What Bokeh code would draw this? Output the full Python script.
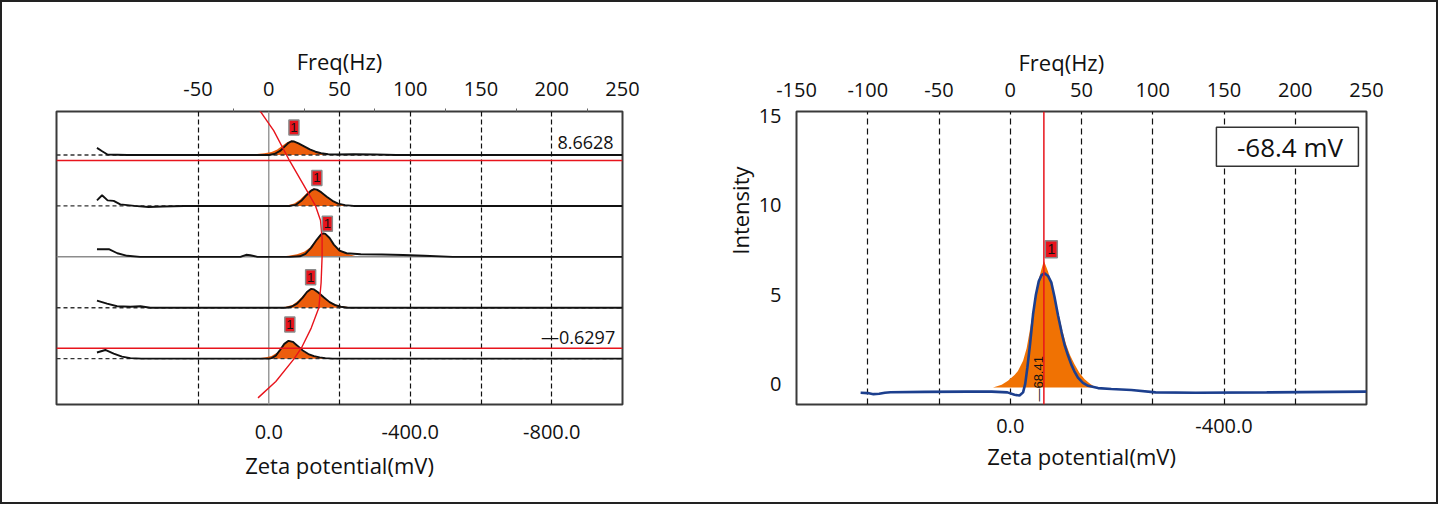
from bokeh.plotting import figure
from bokeh.models import Range1d, LinearAxis, FixedTicker, Span, Title
from bokeh.layouts import row
from bokeh.embed import file_html
from bokeh.resources import INLINE
from bokeh.core.properties import value

FONT = "Open Sans"

# ---------------- data: left panel (stacked runs) ----------------
freq_ticks = [-50, 0, 50, 100, 150, 200, 250]
freq_tick_labels = ["-50", "0", "50", "100", "150", "200", "250"]
freq_minor = [-25, 25, 75, 125, 175, 225]
left_grid_freq = [-50, 50, 100, 150, 200]
left_zeta_tick_freq = [0, 100, 200]
left_zeta_tick_labels = ["0.0", "-400.0", "-800.0"]

run1_freq = [-121.4, -118, -114, -100, -50, 0, 4, 8, 11, 14, 16, 18, 21, 25, 29, 33, 37, 42, 48, 60, 75, 90, 150, 250]
run1_amp = [0.14, 0.08, 0.01, 0.0, 0.0, 0.0, 0.02, 0.08, 0.16, 0.24, 0.27, 0.265, 0.23, 0.17, 0.11, 0.065, 0.035, 0.015, 0.01, 0.015, 0.01, 0.0, 0.0, 0.0]
run1_fill_freq = [-20, -10, -3, 2, 6, 10, 13, 16, 19, 23, 27, 31, 35, 40, 46]
run1_fill_amp = [0.0, 0.015, 0.035, 0.06, 0.11, 0.19, 0.25, 0.28, 0.26, 0.2, 0.13, 0.08, 0.045, 0.02, 0.0]

run2_freq = [-121.4, -117.8, -113.9, -109.6, -104.9, -95, -85, -75, -60, 0, 15, 19, 23, 27, 30, 32, 34, 37, 41, 45, 49, 54, 60, 250]
run2_amp = [0.11, 0.21, 0.11, 0.10, 0.03, 0.0, -0.02, -0.01, 0.0, 0.0, 0.0, 0.02, 0.1, 0.22, 0.3, 0.33, 0.32, 0.27, 0.18, 0.1, 0.045, 0.015, 0.0, 0.0]
run2_fill_freq = [8, 14, 18, 22, 26, 29, 32, 35, 38, 42, 46, 51, 57]
run2_fill_amp = [0.0, 0.02, 0.05, 0.12, 0.23, 0.31, 0.34, 0.32, 0.26, 0.16, 0.08, 0.03, 0.0]

run3_freq = [-121.4, -113, -107, -100, -91, -40, -20, -16, -13, -8, 0, 15, 22, 26, 30, 34, 37, 38.6, 40, 43, 46, 50, 55, 65, 80, 95, 110, 130, 250]
run3_amp = [0.15, 0.15, 0.07, 0.02, 0.0, 0.0, 0.0, 0.04, 0.03, 0.0, 0.0, 0.0, 0.01, 0.06, 0.18, 0.34, 0.44, 0.46, 0.45, 0.37, 0.24, 0.12, 0.07, 0.05, 0.045, 0.035, 0.02, 0.0, 0.0]
run3_fill_freq = [7, 14, 20, 25, 29, 33, 36, 38.6, 41, 44, 48, 53, 58, 63]
run3_fill_amp = [0.0, 0.02, 0.05, 0.1, 0.18, 0.31, 0.42, 0.47, 0.43, 0.31, 0.17, 0.08, 0.04, 0.0]

run4_freq = [-121.4, -114.3, -107.2, -97.8, -90.7, -83.7, 0, 12, 16, 20, 24, 27, 29.8, 32, 35, 39, 43, 47, 51, 56, 250]
run4_amp = [0.14, 0.08, 0.03, 0.02, 0.03, 0.0, 0.0, 0.0, 0.02, 0.08, 0.2, 0.31, 0.37, 0.36, 0.3, 0.2, 0.11, 0.05, 0.02, 0.0, 0.0]
run4_fill_freq = [6, 12, 17, 21, 25, 28, 29.8, 32, 35, 39, 44, 50, 56, 63]
run4_fill_amp = [0.0, 0.02, 0.06, 0.14, 0.26, 0.35, 0.38, 0.37, 0.31, 0.2, 0.1, 0.04, 0.015, 0.0]

run5_freq = [-121.4, -115.5, -109.6, -103.7, -97.8, -90, 0, 2, 5, 8, 11, 14, 17, 20, 24, 28, 32, 36, 40, 45, 250]
run5_amp = [0.12, 0.17, 0.10, 0.04, 0.01, 0.0, 0.0, 0.01, 0.06, 0.17, 0.29, 0.35, 0.33, 0.26, 0.16, 0.09, 0.05, 0.025, 0.01, 0.0, 0.0]
run5_fill_freq = [-14, -7, -2, 2, 6, 9, 12, 14, 16, 19, 23, 28, 34, 40, 45]
run5_fill_amp = [0.0, 0.01, 0.025, 0.05, 0.12, 0.22, 0.32, 0.36, 0.34, 0.27, 0.16, 0.08, 0.035, 0.01, 0.0]

# peak marker positions (freq, level above own baseline)
marker_freq = [17.8, 34.0, 41.4, 29.6, 14.9]
marker_level = [0.543, 0.551, 0.650, 0.600, 0.673]

# red trend curve through the runs (freq, stacked level)
trend_freq = [-7.0, 3.5, 14.6, 24.5, 33.0, 36.6, 37.7, 37.7, 37.0, 35.4, 30.0, 23.0, 17.7, 5.0, -7.6]
trend_level = [4.90, 4.478, 3.893, 3.42, 3.005, 2.712, 2.37, 2.0, 1.49, 1.00, 0.6, 0.205, -0.01, -0.45, -0.771]

upper_limit_level = 3.893
lower_limit_level = 0.205
upper_limit_text = "8.6628"
lower_limit_text = "\u20140.6297"

# ---------------- data: right panel (single run) ----------------
right_freq_ticks = [-150, -100, -50, 0, 50, 100, 150, 200, 250]
right_freq_tick_labels = ["-150", "-100", "-50", "0", "50", "100", "150", "200", "250"]
right_grid_freq = [-100, -50, 0, 50, 100, 150, 200]
right_zeta_tick_freq = [0, 150]
right_zeta_tick_labels = ["0.0", "-400.0"]
intensity_ticks = [0, 5, 10, 15]

blue_freq = [-105, -100, -96, -92, -88, -84, -60, -30, -13, -2, 3, 6.5, 9, 10.5, 12, 14, 16, 18, 20, 22, 24, 26.5, 28.8, 31, 33.5, 36, 38.1, 40.5, 42.8, 45, 47.5, 51, 54.6, 61.6, 70.9, 85, 102, 130, 180, 250]
blue_int = [-0.5, -0.52, -0.58, -0.56, -0.5, -0.47, -0.45, -0.44, -0.44, -0.48, -0.61, -0.66, -0.48, 0.0, 0.9, 2.3, 3.9, 5.0, 5.75, 6.1, 6.2, 6.05, 5.69, 4.9, 3.85, 2.9, 2.19, 1.6, 1.09, 0.7, 0.35, 0.05, -0.11, -0.24, -0.29, -0.35, -0.48, -0.5, -0.48, -0.44]

orange_freq = [-12.1, -6, -1.6, 3, 5.4, 9, 11.5, 13.6, 16, 18.3, 20, 21.8, 23.6, 25.3, 26.5, 28, 30, 32, 34.6, 37, 39.3, 42, 45.2, 48.5, 52.2, 56, 59.2, 61.6]
orange_int = [-0.2, -0.05, 0.17, 0.5, 0.72, 1.3, 2.0, 2.93, 4.1, 5.1, 5.85, 6.4, 6.9, 6.55, 6.3, 5.9, 5.3, 4.55, 3.66, 2.85, 2.19, 1.6, 1.09, 0.62, 0.26, 0.0, -0.17, -0.2]
orange_base = -0.2

peak_freq = 23.6
peak_zeta_text = "\u201468.41"
peak_marker_int = 7.54
peak_marker_freq = 28.8
result_text = "-68.4 mV"

# ---------------- styles ----------------
ORANGE_L = "#ec5d0c"
ORANGE_R = "#f07203"
RED = "#e8141c"
BLUE = "#1c3f8e"
FRAME = "#3a3a3a"
TXT = "#111111"


def style_axis(ax, size="20px"):
    ax.axis_line_color = None
    ax.major_tick_line_color = None
    ax.minor_tick_line_color = None
    ax.major_label_text_font = FONT
    ax.major_label_text_font_size = size
    ax.major_label_text_color = TXT
    ax.axis_label_text_font = FONT
    ax.axis_label_text_font_size = "22px"
    ax.axis_label_text_font_style = "normal"
    ax.axis_label_text_color = TXT


def marker_box(p, xs, ys, w, h, fs):
    p.rect(x=xs, y=ys, width=w, height=h, width_units="screen", height_units="screen",
           fill_color=RED, line_color="#8a8a8a", line_width=1.5)
    p.text(x=xs, y=ys, text=["1"] * len(xs), text_align="center", text_baseline="middle",
           text_font=value("Liberation Sans"), text_font_size=fs, text_color="#111111")


# ================= left figure =================
L_RANGE = (-150, 250)
LY = (-0.901, 4.855)
p1 = figure(width=638, height=500, output_backend="svg", toolbar_location=None,
            x_range=Range1d(*L_RANGE), y_range=Range1d(*LY),
            x_axis_location=None, y_axis_location=None,
            min_border_left=54, min_border_right=18, min_border_top=109, min_border_bottom=96)
p1.outline_line_color = FRAME
p1.outline_line_width = 2
p1.background_fill_color = "white"
p1.border_fill_color = "white"
p1.ygrid.visible = False
p1.xgrid.ticker = FixedTicker(ticks=left_grid_freq)
p1.xgrid.grid_line_color = "#111111"
p1.xgrid.grid_line_dash = "5 3"
p1.xgrid.grid_line_width = 1.2

top1 = LinearAxis(ticker=FixedTicker(ticks=freq_ticks, minor_ticks=freq_minor), axis_label="Freq(Hz)",
                  major_label_overrides=dict(zip(freq_ticks, freq_tick_labels)))
style_axis(top1)
top1.minor_tick_line_color = "#666666"
top1.minor_tick_out = 3
top1.minor_tick_in = 0
top1.major_label_standoff = 10
top1.axis_label_standoff = 3
p1.add_layout(top1, "above")

bot1 = LinearAxis(ticker=FixedTicker(ticks=left_zeta_tick_freq),
                  major_label_overrides=dict(zip(left_zeta_tick_freq, left_zeta_tick_labels)),
                  axis_label="Zeta potential(mV)")
style_axis(bot1)
bot1.major_label_standoff = 14
bot1.axis_label_standoff = 8
p1.add_layout(bot1, "below")

p1.add_layout(Span(location=0, dimension="height", line_color="#9a9a9a", line_width=1.5, level="underlay"))

runs = [
    (run1_freq, run1_amp, run1_fill_freq, run1_fill_amp),
    (run2_freq, run2_amp, run2_fill_freq, run2_fill_amp),
    (run3_freq, run3_amp, run3_fill_freq, run3_fill_amp),
    (run4_freq, run4_amp, run4_fill_freq, run4_fill_amp),
    (run5_freq, run5_amp, run5_fill_freq, run5_fill_amp),
]
n = len(runs)
for i, (fx, fa, ffx, ffa) in enumerate(runs):
    off = n - 1 - i
    p1.varea(x=ffx, y1=[off] * len(ffx), y2=[off + a for a in ffa], fill_color=ORANGE_L)
    if i == 2:
        p1.line(x=[L_RANGE[0], L_RANGE[1]], y=[off, off], line_color="#8c8c8c", line_width=1.5)
    else:
        p1.line(x=[L_RANGE[0], L_RANGE[1]], y=[off, off], line_color="#333333", line_width=1.3,
                line_dash="4 3")
    p1.line(x=fx, y=[off + a for a in fa], line_color="#111111", line_width=1.9)

p1.add_layout(Span(location=upper_limit_level, dimension="width", line_color=RED, line_width=1.5))
p1.add_layout(Span(location=lower_limit_level, dimension="width", line_color=RED, line_width=1.5))
p1.line(x=trend_freq, y=trend_level, line_color=RED, line_width=1.4)

mx = marker_freq
my = [n - 1 - i + lv for i, lv in enumerate(marker_level)]
marker_box(p1, mx, my, 10, 15, "13px")

p1.text(x=[204], y=[upper_limit_level + 0.36], text=[upper_limit_text], text_align="left",
        text_baseline="middle", text_font=value(FONT), text_font_size="18px", text_color=TXT)
p1.text(x=[192.4], y=[lower_limit_level + 0.225], text=[lower_limit_text], text_align="left",
        text_baseline="middle", text_font=value(FONT), text_font_size="18px", text_color=TXT)

# ================= right figure =================
R_RANGE = (-150, 250)
RY = (-1.16, 15.27)
p2 = figure(width=796, height=500, output_backend="svg", toolbar_location=None,
            x_range=Range1d(*R_RANGE), y_range=Range1d(*RY),
            x_axis_location=None, y_axis_location=None,
            min_border_left=156, min_border_right=70, min_border_top=105, min_border_bottom=98)
p2.outline_line_color = FRAME
p2.outline_line_width = 2
p2.ygrid.visible = False
p2.xgrid.ticker = FixedTicker(ticks=right_grid_freq)
p2.xgrid.grid_line_color = "#111111"
p2.xgrid.grid_line_dash = "6 4"
p2.xgrid.grid_line_width = 1.2

top2 = LinearAxis(ticker=FixedTicker(ticks=right_freq_ticks),
                  major_label_overrides=dict(zip(right_freq_ticks, right_freq_tick_labels)))
style_axis(top2)
top2.major_label_standoff = 9
p2.add_layout(top2, "above")
p2.add_layout(Title(text="Freq(Hz)", align="left", offset=222, standoff=5, text_font=FONT,
                    text_font_size="22px", text_font_style="normal", text_color=TXT), "above")

bot2 = LinearAxis(ticker=FixedTicker(ticks=right_zeta_tick_freq),
                  major_label_overrides=dict(zip(right_zeta_tick_freq, right_zeta_tick_labels)),
                  axis_label="Zeta potential(mV)")
style_axis(bot2)
bot2.major_label_standoff = 8
bot2.axis_label_standoff = 5
p2.add_layout(bot2, "below")

left2 = LinearAxis(ticker=FixedTicker(ticks=intensity_ticks))
style_axis(left2)
left2.major_label_standoff = 9
p2.add_layout(left2, "left")
p2.add_layout(Title(text="Intensity", align="right", offset=55, standoff=2, text_font=FONT,
                    text_font_size="22px", text_font_style="normal", text_color=TXT), "left")

p2.varea(x=orange_freq, y1=[orange_base] * len(orange_freq), y2=orange_int, fill_color=ORANGE_R)
p2.line(x=blue_freq, y=blue_int, line_color=BLUE, line_width=2.6)
p2.add_layout(Span(location=peak_freq, dimension="height", line_color=RED, line_width=1.5))
marker_box(p2, [peak_marker_freq], [peak_marker_int], 12, 17, "14px")
p2.text(x=[19.5], y=[0.28], text=[peak_zeta_text], angle=1.5708, text_align="center",
        text_baseline="middle", text_font=value("Liberation Sans"), text_font_size="13px", text_color=TXT)

p2.rect(x=[194.5], y=[13.3], width=142, height=39, width_units="screen", height_units="screen",
        fill_color="white", line_color="#333333", line_width=1.5)
p2.text(x=[196.3], y=[13.3], text=[result_text], text_align="center", text_baseline="middle",
        text_font=value(FONT), text_font_size="26px", text_color=TXT)

layout = row(p1, p2, styles={"border": "2px solid #222222"})
open("out.html", "w").write(file_html(layout, INLINE))
